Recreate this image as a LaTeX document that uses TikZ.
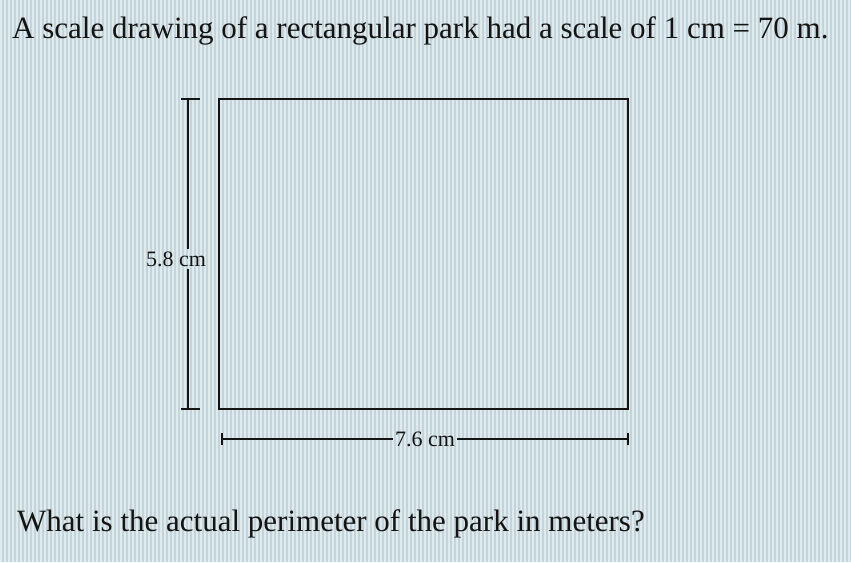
\documentclass[tikz,border=0pt]{standalone}
\usepackage{fontspec}
\setmainfont{Liberation Serif}
\definecolor{bgA}{RGB}{196,212,222}
\definecolor{bgB}{RGB}{222,234,236}
\definecolor{ink}{RGB}{20,20,20}
\tikzset{
  shape line/.style={draw=ink, line width=1.6pt},
  dim line/.style={draw=ink, line width=1.3pt},
  bigtext/.style={font=\fontsize{31}{34}\selectfont, text=ink, inner sep=0pt, anchor=base west},
  dimlabel/.style={font=\fontsize{22}{24}\selectfont, text=ink, inner sep=2pt}
}
\begin{document}
\begin{tikzpicture}[x=1pt,y=-1pt]
\useasboundingbox (0,0) rectangle (851,562);
\fill[bgA] (0,0) rectangle (851,562);
\foreach \i in {0,4,...,848} {\fill[bgB] (\i,0) rectangle (\i+1.6,562);}
% title
\node[bigtext] (title) at (12,38) {A scale drawing of a rectangular park had a scale of 1 cm = 70 m.};
% rectangle
\coordinate (tl) at (219,99);
\coordinate (br) at (628,409);
\draw[shape line] (tl) rectangle (br);
% vertical dimension
\coordinate (vt) at (188,99);
\coordinate (vb) at (188,409);
\node[dimlabel] (vlab) at (176,259) {5.8 cm};
\draw[dim line] (vt) -- (vlab.north -| vt);
\draw[dim line] (vlab.south -| vb) -- (vb);
\draw[dim line] ([xshift=-7]vt) -- ([xshift=12]vt);
\draw[dim line] ([xshift=-7]vb) -- ([xshift=12]vb);
% horizontal dimension
\coordinate (hl) at (222,439);
\coordinate (hr) at (628,439);
\node[dimlabel] (hlab) at (425,439) {7.6 cm};
\draw[dim line] (hl) -- (hlab.west);
\draw[dim line] (hlab.east) -- (hr);
\draw[dim line] ([yshift=-6]hl) -- ([yshift=6]hl);
\draw[dim line] ([yshift=-6]hr) -- ([yshift=6]hr);
% question
\node[bigtext] (question) at (17,531) {What is the actual perimeter of the park in meters?};
\end{tikzpicture}
\end{document}
